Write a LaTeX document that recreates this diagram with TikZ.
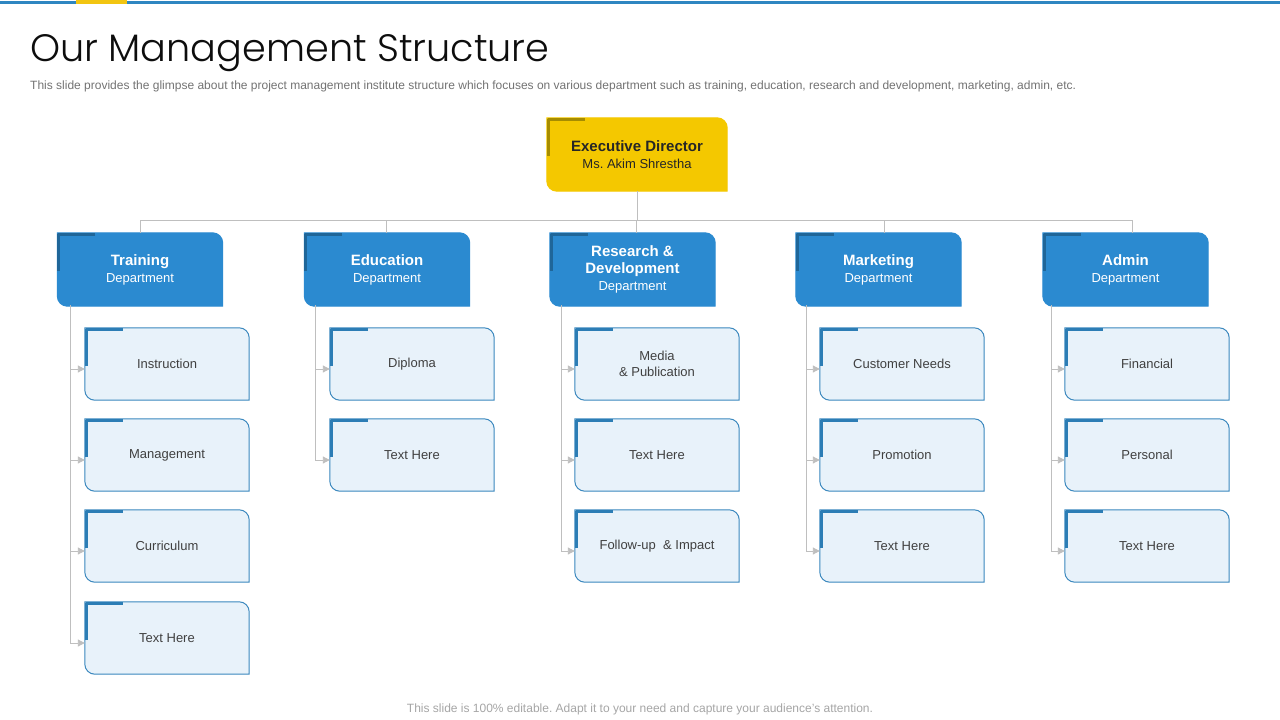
\documentclass[tikz,border=0pt]{standalone}
\usepackage{fontspec}
\setmainfont{Liberation Sans}
\newfontfamily\titlefont{Poppins Light}
\usepackage{tikz}
\usetikzlibrary{arrows.meta}
\tikzset{>={Triangle[length=7,width=7]}}
\usetikzlibrary{backgrounds}
\frenchspacing

\definecolor{barblue}{HTML}{2E86C1}
\definecolor{baryellow}{HTML}{F2C511}
\definecolor{deptblue}{HTML}{2B8AD0}
\definecolor{deptdark}{HTML}{1F6699}
\definecolor{execyellow}{HTML}{F4C800}
\definecolor{execdark}{HTML}{A68C00}
\definecolor{childfill}{HTML}{E8F2FA}
\definecolor{childline}{HTML}{3A87BE}
\definecolor{childdark}{HTML}{2C7DB5}
\definecolor{linegray}{HTML}{BFBFBF}

\tikzset{
  execbox/.style={minimum width=180, minimum height=73, inner sep=0, align=center,
    text=black!85, font=\fontsize{13}{17}\selectfont},
  deptbox/.style={minimum width=165, minimum height=73, inner sep=0, align=center,
    text=white, font=\fontsize{13}{17}\selectfont},
  childbox/.style={minimum width=164, minimum height=72, inner sep=0, align=center,
    text=black!75, font=\fontsize{13}{16}\selectfont},
  link/.style={draw=linegray, line width=0.9},
}

\newcommand{\deptname}[1]{{\fontsize{15}{17}\selectfont\bfseries #1}}
% box with round top right and bottom left corners, plus the darker corner mark
\newcommand{\orgshape}[4]{%
  \path[fill=#2, draw=#3, line width=1] (#1.north west) -- ([xshift=-10]#1.north east)
    arc[start angle=90, end angle=0, radius=10] -- (#1.south east)
    -- ([xshift=10]#1.south west) arc[start angle=270, end angle=180, radius=10] -- cycle;
  \draw[#4, line width=3, line join=round] ([xshift=38,yshift=-1.5]#1.north west)
    -- ([xshift=1.5,yshift=-1.5]#1.north west) -- ([xshift=1.5,yshift=-38]#1.north west);
}

\begin{document}
\begin{tikzpicture}[x=1pt, y=1pt]
  \useasboundingbox (0,0) rectangle (1280,-720);

  % title
  \node[anchor=base west, inner sep=0, font=\titlefont\fontsize{38.2}{43}\selectfont, text=black!95]
    (title) at (30,-61) {Our Management Structure};
  \node[anchor=base west, inner sep=0, font=\fontsize{12}{14}\selectfont, text=black!55]
    (subtitle) at (30,-89) {This slide provides the glimpse about the project management institute structure which focuses on various department such as training, education, research and development, marketing, admin, etc.};

  % top
  \node[execbox] (exec) at (637,-154.5) {\deptname{Executive Director}\\Ms. Akim Shrestha};

  % departments
  \node[deptbox] (train) at (140,-269.5) {\deptname{Training}\\Department};
  \node[deptbox] (edu) at (387,-269.5) {\deptname{Education}\\Department};
  \node[deptbox] (rd) at (632.5,-269.5) {\deptname{Research \&}\\\deptname{Development}\\Department};
  \node[deptbox] (mkt) at (878.5,-269.5) {\deptname{Marketing}\\Department};
  \node[deptbox] (adm) at (1125.5,-269.5) {\deptname{Admin}\\Department};

  % units
  \node[childbox] (train1) at (167,-364) {Instruction};
  \node[childbox] (train2) at (167,-455) {Management};
  \node[childbox] (train3) at (167,-546) {Curriculum};
  \node[childbox] (train4) at (167,-638) {Text Here};
  \node[childbox] (edu1) at (412,-364) {Diploma};
  \node[childbox] (edu2) at (412,-455) {Text Here};
  \node[childbox] (rd1) at (657,-364) {Media\\\& Publication};
  \node[childbox] (rd2) at (657,-455) {Text Here};
  \node[childbox] (rd3) at (657,-546) {Follow-up \ \& Impact};
  \node[childbox] (mkt1) at (902,-364) {Customer Needs};
  \node[childbox] (mkt2) at (902,-455) {Promotion};
  \node[childbox] (mkt3) at (902,-546) {Text Here};
  \node[childbox] (adm1) at (1147,-364) {Financial};
  \node[childbox] (adm2) at (1147,-455) {Personal};
  \node[childbox] (adm3) at (1147,-546) {Text Here};

  \node[anchor=base, inner sep=0, font=\fontsize{12}{14}\selectfont, text=black!35]
    (footer) at (640,-712) {This slide is 100\% editable. Adapt it to your need and capture your audience's attention.};

  \begin{scope}[on background layer]
    \fill[white] (0,0) rectangle (1280,-720);
    \fill[barblue] (0,-0.8) rectangle (1280,-3.6);
    \fill[baryellow] (76,0) rectangle (127,-4.2);

    \orgshape{exec}{execyellow}{execyellow}{execdark}
    \foreach \d in {train,edu,rd,mkt,adm}
      \orgshape{\d}{deptblue}{deptblue}{deptdark};
    \foreach \c in {train1,train2,train3,train4,edu1,edu2,rd1,rd2,rd3,mkt1,mkt2,mkt3,adm1,adm2,adm3}
      \orgshape{\c}{childfill}{childline}{childdark};
  \end{scope}

  % connectors
  \coordinate (busL) at (140,-220);
  \coordinate (busR) at (1132,-220);
  \draw[link] (exec.south) -- (exec.south |- busL);
  \draw[link] (busL) -- (busR);
  \foreach \d/\jx in {train/140, edu/386, rd/636, mkt/884, adm/1132} {
    \coordinate (j\d) at (\jx,-220);
    \draw[link] (j\d) -- (j\d |- \d.north);
  }
  \foreach \d/\lx/\kids/\last in {train/70/{1,2,3,4}/4, edu/315/{1,2}/2, rd/561/{1,2,3}/3,
      mkt/806/{1,2,3}/3, adm/1051/{1,2,3}/3} {
    \coordinate (s\d) at (\lx,-305);
    \foreach \k in \kids {
      \coordinate (\d\k-in) at ([yshift=-5]\d\k.west);
      \draw[link,->] (\d\k-in -| s\d) -- (\d\k-in);
    }
    \draw[link] (s\d) -- (s\d |- \d\last-in);
  }
\end{tikzpicture}
\end{document}
